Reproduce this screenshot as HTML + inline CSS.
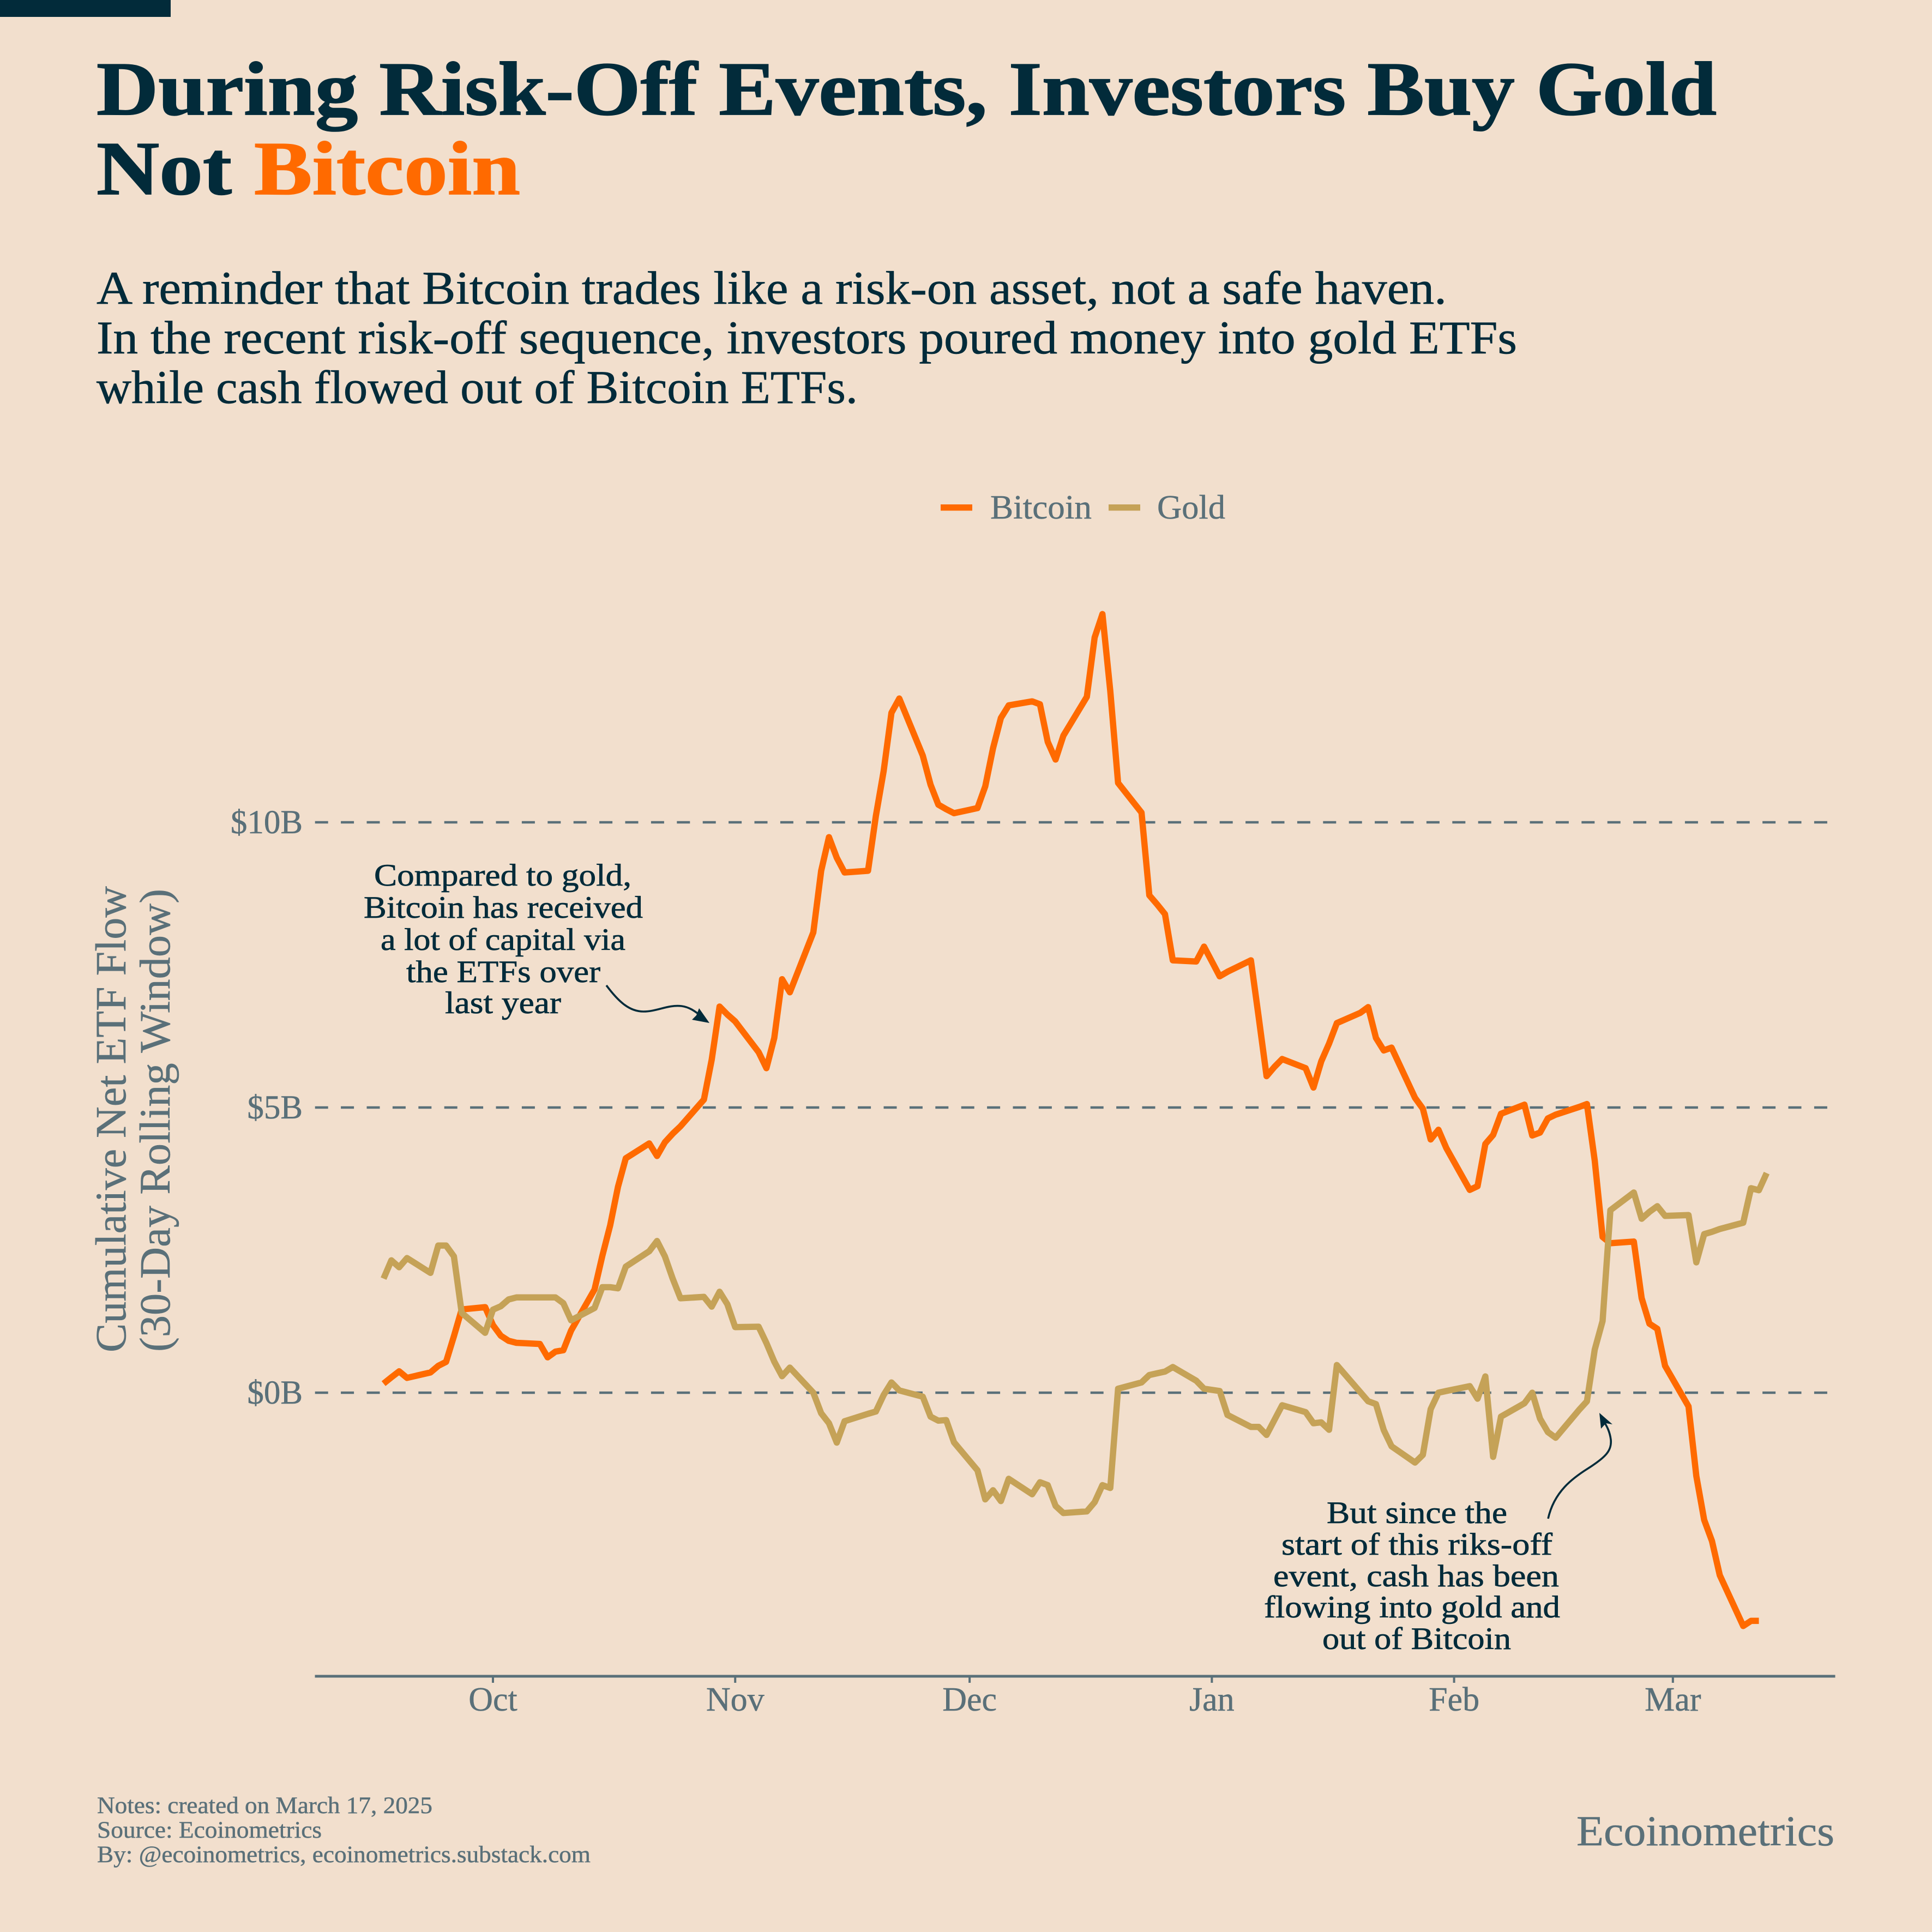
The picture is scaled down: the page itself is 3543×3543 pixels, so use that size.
<!DOCTYPE html>
<html lang="en">
<head>
<meta charset="utf-8">
<title>During Risk-Off Events, Investors Buy Gold Not Bitcoin</title>
<style>
html,body{margin:0;padding:0;background:#F2DFCD;}
svg{display:block;}
text{font-family:"Liberation Serif",serif;}
.ink{fill:#022B3A;stroke:#022B3A;stroke-width:0.7;}
.slate{fill:#5A7079;stroke:#5A7079;stroke-width:0.5;}
.head{stroke-width:1.8;}
</style>
</head>
<body>
<svg id="chart" xmlns="http://www.w3.org/2000/svg" width="3543" height="3543" viewBox="0 0 3543 3543">
  <rect x="0" y="0" width="3543" height="3543" fill="#F2DFCD"/>
  <rect x="0" y="0" width="313" height="31" fill="#022B3A"/>

  <text class="ink head" x="177" y="210" font-size="140" font-weight="700" textLength="2971" lengthAdjust="spacingAndGlyphs">During Risk-Off Events, Investors Buy Gold</text>
  <text class="ink head" x="177" y="356" font-size="140" font-weight="700" textLength="248" lengthAdjust="spacingAndGlyphs">Not</text>
  <text x="466" y="356" font-size="140" font-weight="700" fill="#FF6A00" stroke="#FF6A00" stroke-width="1.8" textLength="488" lengthAdjust="spacingAndGlyphs">Bitcoin</text>

  <text class="ink" x="177" y="557" font-size="86" textLength="2476" lengthAdjust="spacingAndGlyphs">A reminder that Bitcoin trades like a risk-on asset, not a safe haven.</text>
  <text class="ink" x="177" y="648" font-size="86" textLength="2605" lengthAdjust="spacingAndGlyphs">In the recent risk-off sequence, investors poured money into gold ETFs</text>
  <text class="ink" x="177" y="739" font-size="86" textLength="1396" lengthAdjust="spacingAndGlyphs">while cash flowed out of Bitcoin ETFs.</text>

  <g>
    <rect x="1725" y="925" width="58" height="11.5" fill="#FF6A00"/>
    <text class="slate" x="1816" y="951" font-size="62" textLength="186" lengthAdjust="spacingAndGlyphs">Bitcoin</text>
    <rect x="2033" y="925" width="58" height="11.5" fill="#C5A257"/>
    <text class="slate" x="2122" y="951" font-size="62" textLength="125" lengthAdjust="spacingAndGlyphs">Gold</text>
  </g>

  <text class="slate" transform="translate(230 2480) rotate(-90)" font-size="79" textLength="855" lengthAdjust="spacingAndGlyphs">Cumulative Net ETF Flow</text>
  <text class="slate" transform="translate(311 2479) rotate(-90)" font-size="79" textLength="849" lengthAdjust="spacingAndGlyphs">(30-Day Rolling Window)</text>

  <g id="grid"></g>
  <g id="yticks"></g>
  <g id="series"></g>
  <line x1="577.5" x2="3365.5" y1="3074" y2="3074" stroke="#5A7079" stroke-width="5"/>
  <g id="xticks"></g>

  <g>
    <text class="ink" x="686" y="1624" font-size="57" textLength="472" lengthAdjust="spacingAndGlyphs">Compared to gold,</text>
    <text class="ink" x="667" y="1683" font-size="57" textLength="512" lengthAdjust="spacingAndGlyphs">Bitcoin has received</text>
    <text class="ink" x="698" y="1742" font-size="57" textLength="449" lengthAdjust="spacingAndGlyphs">a lot of capital via</text>
    <text class="ink" x="745" y="1801" font-size="57" textLength="356" lengthAdjust="spacingAndGlyphs">the ETFs over</text>
    <text class="ink" x="816" y="1858" font-size="57" textLength="213" lengthAdjust="spacingAndGlyphs">last year</text>
    <path d="M1112 1807 C1135 1838 1155 1855 1180 1855 C1205 1855 1225 1842 1250 1845 C1265 1847 1275 1855 1287 1864" fill="none" stroke="#022B3A" stroke-width="3.6"/>
    <path d="M1301 1876 L1269 1870 L1277 1862 L1282 1849 Z" fill="#022B3A"/>
  </g>

  <g>
    <text class="ink" x="2433" y="2793" font-size="57" textLength="331" lengthAdjust="spacingAndGlyphs">But since the</text>
    <text class="ink" x="2350" y="2851" font-size="57" textLength="497" lengthAdjust="spacingAndGlyphs">start of this riks-off</text>
    <text class="ink" x="2335" y="2909" font-size="57" textLength="524" lengthAdjust="spacingAndGlyphs">event, cash has been</text>
    <text class="ink" x="2318" y="2966" font-size="57" textLength="543" lengthAdjust="spacingAndGlyphs">flowing into gold and</text>
    <text class="ink" x="2425" y="3024" font-size="57" textLength="346" lengthAdjust="spacingAndGlyphs">out of Bitcoin</text>
    <path d="M2839 2785 C2850 2735 2885 2710 2912 2693 C2945 2672 2956 2660 2954 2640 C2952 2625 2947 2616 2941 2606" fill="none" stroke="#022B3A" stroke-width="3.6"/>
    <path d="M2933 2591 L2957 2612 L2945 2610 L2936 2620 Z" fill="#022B3A"/>
  </g>

  <text class="slate" x="178" y="3325" font-size="43" textLength="615" lengthAdjust="spacingAndGlyphs">Notes: created on March 17, 2025</text>
  <text class="slate" x="178" y="3370" font-size="43" textLength="412" lengthAdjust="spacingAndGlyphs">Source: Ecoinometrics</text>
  <text class="slate" x="178" y="3415" font-size="43" textLength="905" lengthAdjust="spacingAndGlyphs">By: @ecoinometrics, ecoinometrics.substack.com</text>
  <text class="slate" x="2891" y="3384" font-size="78" textLength="473" lengthAdjust="spacingAndGlyphs">Ecoinometrics</text>
</svg>

<script>
const tradingDates = [
"2024-09-17","2024-09-18","2024-09-19","2024-09-20",
"2024-09-23","2024-09-24","2024-09-25","2024-09-26","2024-09-27",
"2024-09-30","2024-10-01","2024-10-02","2024-10-03","2024-10-04",
"2024-10-07","2024-10-08","2024-10-09","2024-10-10","2024-10-11",
"2024-10-14","2024-10-15","2024-10-16","2024-10-17","2024-10-18",
"2024-10-21","2024-10-22","2024-10-23","2024-10-24","2024-10-25",
"2024-10-28","2024-10-29","2024-10-30","2024-10-31","2024-11-01",
"2024-11-04","2024-11-05","2024-11-06","2024-11-07","2024-11-08",
"2024-11-11","2024-11-12","2024-11-13","2024-11-14","2024-11-15",
"2024-11-18","2024-11-19","2024-11-20","2024-11-21","2024-11-22",
"2024-11-25","2024-11-26","2024-11-27","2024-11-28","2024-11-29",
"2024-12-02","2024-12-03","2024-12-04","2024-12-05","2024-12-06",
"2024-12-09","2024-12-10","2024-12-11","2024-12-12","2024-12-13",
"2024-12-16","2024-12-17","2024-12-18","2024-12-19","2024-12-20",
"2024-12-23","2024-12-24","2024-12-25","2024-12-26","2024-12-27",
"2024-12-30","2024-12-31","2025-01-01","2025-01-02","2025-01-03",
"2025-01-06","2025-01-07","2025-01-08","2025-01-09","2025-01-10",
"2025-01-13","2025-01-14","2025-01-15","2025-01-16","2025-01-17",
"2025-01-20","2025-01-21","2025-01-22","2025-01-23","2025-01-24",
"2025-01-27","2025-01-28","2025-01-29","2025-01-30","2025-01-31",
"2025-02-03","2025-02-04","2025-02-05","2025-02-06","2025-02-07",
"2025-02-10","2025-02-11","2025-02-12","2025-02-13","2025-02-14",
"2025-02-17","2025-02-18","2025-02-19","2025-02-20","2025-02-21",
"2025-02-24","2025-02-25","2025-02-26","2025-02-27","2025-02-28",
"2025-03-03","2025-03-04","2025-03-05","2025-03-06","2025-03-07",
"2025-03-10","2025-03-11","2025-03-12","2025-03-13"];

const bitcoinValues = [
0.16,0.27,0.375,0.26,
0.355,0.47,0.54,0.99,1.46,
1.50,1.185,1.0,0.91,0.875,
0.855,0.62,0.72,0.745,1.09,
1.81,2.40,2.935,3.61,4.11,
4.37,4.15,4.39,4.54,4.67,
5.14,5.84,6.77,6.63,6.51,
5.97,5.69,6.22,7.25,7.02,
8.07,9.15,9.74,9.38,9.12,
9.15,10.11,10.90,11.92,12.17,
11.17,10.66,10.31,10.23,10.16,
10.25,10.63,11.30,11.83,12.05,
12.12,12.07,11.41,11.10,11.52,
12.20,13.24,13.65,12.30,10.69,
10.17,8.72,8.56,8.39,7.58,
7.56,7.82,7.56,7.30,7.38,
7.58,6.58,5.55,5.71,5.85,
5.69,5.35,5.81,6.12,6.48,
6.66,6.76,6.22,6.0,6.05,
5.17,4.98,4.44,4.61,4.29,
3.555,3.62,4.36,4.52,4.89,
5.05,4.51,4.56,4.81,4.875,
5.01,5.06,4.07,2.73,2.62,
2.65,1.66,1.21,1.12,0.47,
-0.24,-1.46,-2.23,-2.6,-3.2,
-4.09,-4.0,-4.0];

const goldValues = [
2.00,2.32,2.20,2.36,
2.10,2.58,2.58,2.39,1.40,
1.05,1.455,1.515,1.635,1.67,
1.67,1.67,1.67,1.57,1.27,
1.485,1.85,1.85,1.83,2.21,
2.48,2.66,2.39,2.0,1.655,
1.68,1.51,1.77,1.55,1.15,
1.157,0.87,0.545,0.29,0.44,
0.0,-0.36,-0.535,-0.875,-0.50,
-0.37,-0.33,-0.04,0.18,0.04,
-0.07,-0.42,-0.49,-0.48,-0.87,
-1.36,-1.87,-1.71,-1.90,-1.51,
-1.78,-1.57,-1.62,-1.985,-2.11,
-2.08,-1.92,-1.62,-1.67,0.07,
0.18,0.31,0.34,0.37,0.45,
0.21,0.07,0.05,0.03,-0.39,
-0.60,-0.60,-0.74,-0.48,-0.22,
-0.34,-0.535,-0.52,-0.65,0.485,
0.01,-0.15,-0.2,-0.655,-0.94,
-1.225,-1.09,-0.29,0.0,0.03,
0.115,-0.105,0.285,-1.125,-0.42,
-0.185,0.0,-0.455,-0.69,-0.79,
-0.30,-0.15,0.755,1.256,3.2,
3.51,3.05,3.17,3.27,3.10,
3.115,2.285,2.78,2.82,2.87,
2.98,3.585,3.55,3.85];

const yTickValues = [0, 5, 10];
const yTickLabels = ["$0B", "$5B", "$10B"];
const xTickDates = ["2024-10-01","2024-11-01","2024-12-01","2025-01-01","2025-02-01","2025-03-01"];
const xTickLabels = ["Oct","Nov","Dec","Jan","Feb","Mar"];

const NS = "http://www.w3.org/2000/svg";
const DAY_MS = 86400000;
const ORIGIN_MS = Date.parse("2024-10-01T00:00:00Z");

function xScale(dateStr) {
  const days = (Date.parse(dateStr + "T00:00:00Z") - ORIGIN_MS) / DAY_MS;
  return 904 + 14.33 * days;
}
function yScale(value) {
  return 2554 - 104.6 * value;
}
function make(tag, attrs, parent) {
  const el = document.createElementNS(NS, tag);
  for (const key in attrs) el.setAttribute(key, attrs[key]);
  parent.appendChild(el);
  return el;
}

const gridGroup = document.getElementById("grid");
const yTickGroup = document.getElementById("yticks");
yTickValues.forEach(function (v, i) {
  const line = make("line", {x1: 577.7, x2: 3355, y1: yScale(v), y2: yScale(v), stroke: "#5A7079", "stroke-width": 4.6, "stroke-dasharray": "24 23.4"}, gridGroup);
  
  
  const label = make("text", {x: 555, y: yScale(v) + 20, "text-anchor": "end", "font-size": 61, "class": "slate"}, yTickGroup);
  label.textContent = yTickLabels[i];
  
  
});

const xTickGroup = document.getElementById("xticks");
xTickDates.forEach(function (d, i) {
  const tick = make("line", {x1: xScale(d), x2: xScale(d), y1: 3074, y2: 3086, stroke: "#5A7079", "stroke-width": 4}, xTickGroup);
  
  
  const label = make("text", {x: xScale(d), y: 3137, "text-anchor": "middle", "font-size": 62, "class": "slate"}, xTickGroup);
  label.textContent = xTickLabels[i];
  
  
});

function pointsFor(values) {
  return values.map(function (v, i) {
    return xScale(tradingDates[i]).toFixed(1) + "," + yScale(v).toFixed(1);
  }).join(" ");
}
const seriesGroup = document.getElementById("series");
const bitcoinLine = make("polyline", {points: pointsFor(bitcoinValues), fill: "none", stroke: "#FF6A00", "stroke-width": 11.5, "stroke-linejoin": "round"}, seriesGroup);


const goldLine = make("polyline", {points: pointsFor(goldValues), fill: "none", stroke: "#C5A257", "stroke-width": 11.5, "stroke-linejoin": "round"}, seriesGroup);


</script>
</body>
</html>
